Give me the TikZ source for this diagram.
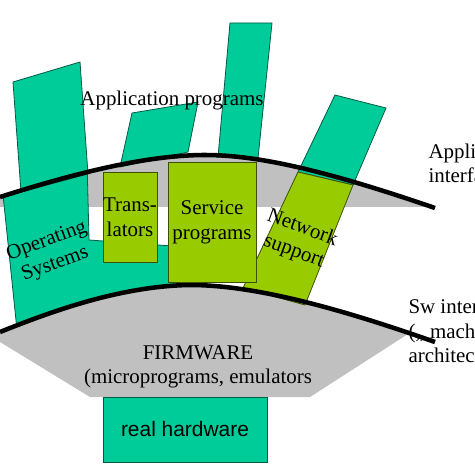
\documentclass[tikz,border=0pt]{standalone}
\usepackage{fontspec}
\setmainfont{Liberation Serif}
\setsansfont{Liberation Sans}

\tikzset{every picture/.style={line width=0.75pt}}
\tikzset{
  appshape/.style={fill={rgb, 255:red, 0; green, 204; blue, 153}, draw={rgb, 255:red, 0; green, 90; blue, 70}, line width=0.6},
  swbox/.style={fill={rgb, 255:red, 153; green, 204; blue, 0}, draw={rgb, 255:red, 60; green, 80; blue, 0}, line width=0.6},
  layer/.style={fill={rgb, 255:red, 192; green, 192; blue, 192}},
  iface/.style={line width=3.4pt},
  lbl/.style={font=\fontsize{15.7}{18.5}\selectfont, align=center, inner sep=0pt}
}
\newcommand\appcurve{(0,197) .. controls (60,178) and (140,155) .. (205,155) .. controls (260,155) and (330,172) .. (435,208)}
\newcommand\machcurve{(0,332) .. controls (50,312) and (120,286) .. (190,285) .. controls (250,285) and (330,305) .. (435,342)}

\begin{document}
\begin{tikzpicture}[x=0.75pt,y=0.75pt,yscale=-1,xscale=1]
	\useasboundingbox (0,0) rectangle (474,474);

	%Shape: Band under application interface
	\begin{scope}
	\clip \appcurve -- (435,474) -- (0,474) -- cycle;
	\fill[layer] (0,150) rectangle (440,207);
	\end{scope}
	%Shape: Firmware
	\begin{scope}
	\clip \machcurve -- (435,474) -- (0,474) -- cycle;
	\fill[layer] (0,280) -- (408,280) -- (408,334) -- (310,397) -- (90,397) -- (0,342) -- cycle;
	\end{scope}
	%Shape: Operating systems
	\begin{scope}
	\clip \appcurve -- (435,342) .. controls (330,305) and (250,285) .. (190,285) .. controls (120,286) and (50,312) .. (0,332) -- cycle;
	\draw[appshape] (2,185) -- (87,160) -- (89,240) -- (186,247) -- (186,300) -- (17,330) -- cycle;
	\end{scope}

	%Shape: Application programs
	\draw[appshape] (13,82) -- (80,62) -- (88,174) -- (21,192) -- cycle;
	\draw[appshape] (132,113) -- (198,102) -- (188,152) -- (120,167) -- cycle;
	\draw[appshape] (230,23) -- (272,23) -- (258,158) -- (218,157) -- cycle;
	\draw[appshape] (335,95) -- (386,108) -- (353,185) -- (298,172) -- cycle;
	%Shape: Network support
	\draw[swbox] (298,172) -- (353,185) -- (305,305) -- (243,288) -- cycle;

	%Shape: Interfaces
	\draw[iface] \appcurve;
	\draw[iface] \machcurve;

	% Boxes
	\node[swbox, lbl, minimum width=40.5pt, minimum height=67.5pt] (transl) at (130,217) {Trans-\\lators};
	\node[swbox, lbl, minimum width=66pt, minimum height=90pt] (service) at (212,222) {Service\\programs};
	\node[appshape, lbl, font=\sffamily\fontsize{15.7}{18.5}\selectfont, minimum width=123pt, minimum height=48.75pt] (hw) at (185,429.5) {real hardware};

	% Text Node
	\node[lbl] (apptxt) at (172,100) {Application programs};
	% Text Node
	\node[lbl, rotate=20] (ostxt) at (51,253) {Operating\\Systems};
	% Text Node
	\node[lbl, rotate=-20] (nettxt) at (298,240) {Network\\support};
	% Text Node
	\node[lbl] (fwtxt) at (198,367) {FIRMWARE\\(microprograms, emulators};
	% Text Node
	\node[lbl, anchor=west, align=left] (apiftxt) at (428,163.5) {Application\\interface};
	% Text Node
	\node[lbl, anchor=west, align=left] (swiftxt) at (408,333) {Sw interface\\(„ machine\\architecture”)};

\end{tikzpicture}
\end{document}
